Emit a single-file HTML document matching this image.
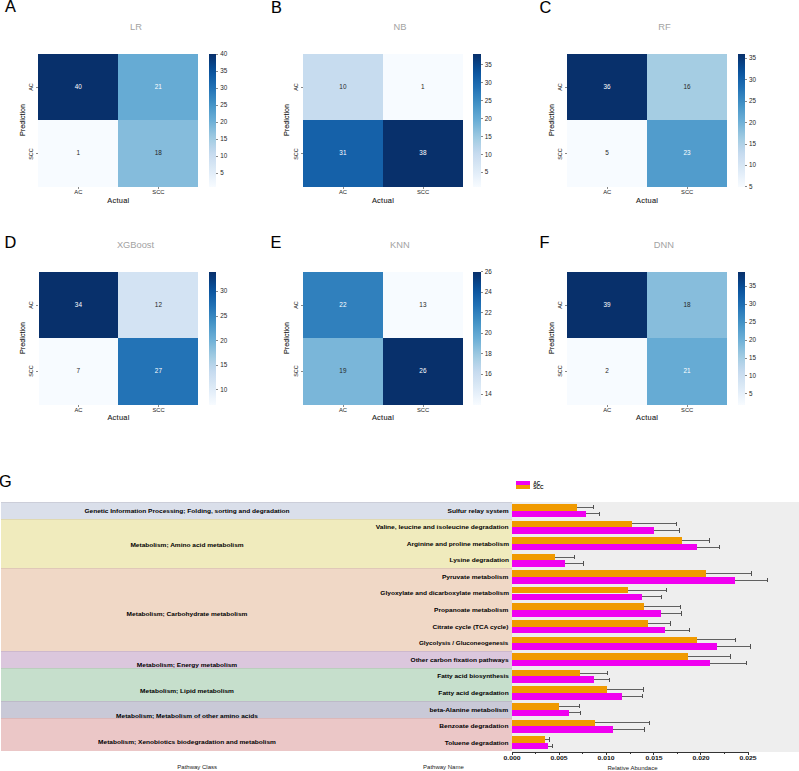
<!DOCTYPE html><html><head><meta charset="utf-8"><style>
html,body{margin:0;padding:0;background:#fff;}
body{width:799px;height:771px;position:relative;overflow:hidden;font-family:"Liberation Sans", sans-serif;}
div{position:absolute;box-sizing:border-box;}
.plab{font-size:16.3px;color:#000;line-height:1;-webkit-text-stroke:0.12px #000;}
.ttl{width:100px;text-align:center;font-size:9.3px;color:#a2a2a2;line-height:1;}
.cell{display:flex;align-items:center;justify-content:center;font-size:6.4px;line-height:1;}
.tk{background:#8a8a8a;}
.ytl{width:20px;height:10px;font-size:5.5px;color:#111;line-height:10px;text-align:center;transform:rotate(-90deg);}
.xtl{width:40px;text-align:center;font-size:5.8px;color:#1a1a1a;line-height:1;}
.xlab{width:60px;text-align:center;font-size:7.4px;letter-spacing:0.28px;color:#1a1a1a;line-height:1;-webkit-text-stroke:0.1px #1a1a1a;}
.ylab{width:60px;height:10px;line-height:10px;text-align:center;font-size:7.2px;color:#1a1a1a;transform:rotate(-90deg);-webkit-text-stroke:0.1px #1a1a1a;}
.cbl{font-size:6.3px;color:#262626;line-height:10px;}
.band{left:1px;width:510.8px;box-shadow:inset 0 1px 0 rgba(90,60,70,0.10);}
.clab{left:87px;width:200px;margin-left:0;text-align:center;white-space:nowrap;font-size:5.6px;font-weight:bold;color:#000;line-height:10px;display:flex;justify-content:center;transform:scaleX(1.17);transform-origin:50% 50%;}
.pname{right:290.3px;white-space:nowrap;font-size:5.6px;font-weight:bold;color:#000;line-height:10px;z-index:20;transform:scaleX(1.175);transform-origin:100% 50%;}
.bar{}
.err{background:#505050;}
.xtick{width:40px;text-align:center;font-size:5.6px;font-weight:bold;color:#111;line-height:1;transform:scaleX(1.22);transform-origin:50% 50%;}
.leg{font-size:4.9px;font-weight:bold;color:#111;line-height:1;}
.blab{width:100px;text-align:center;font-size:6px;color:#222;line-height:1;}
</style></head><body>
<div class="plab" style="left:5.0px;top:-2.5px">A</div>
<div class="ttl" style="left:86.0px;top:22.7px">LR</div>
<div class="cell" style="left:38.40px;top:54.00px;width:79.80px;height:66.40px;background:#08306b;color:#ffffff"><span>40</span></div>
<div class="cell" style="left:118.20px;top:54.00px;width:80.20px;height:66.40px;background:#66abd4;color:#ffffff"><span>21</span></div>
<div class="cell" style="left:38.40px;top:120.40px;width:79.80px;height:66.40px;background:#f7fbff;color:#262626"><span>1</span></div>
<div class="cell" style="left:118.20px;top:120.40px;width:80.20px;height:66.40px;background:#85bcdc;color:#262626"><span>18</span></div>
<div class="ytl" style="left:21.299999999999997px;top:82.2px">AC</div>
<div class="tk" style="left:36.199999999999996px;top:86.8px;width:2px;height:0.8px"></div>
<div class="ytl" style="left:21.299999999999997px;top:148.60000000000002px">SCC</div>
<div class="tk" style="left:36.199999999999996px;top:153.20000000000002px;width:2px;height:0.8px"></div>
<div class="xtl" style="left:58.400000000000006px;top:190.4px">AC</div>
<div class="tk" style="left:78.0px;top:186.8px;width:0.8px;height:2px"></div>
<div class="xtl" style="left:138.4px;top:190.4px">SCC</div>
<div class="tk" style="left:158.0px;top:186.8px;width:0.8px;height:2px"></div>
<div class="xlab" style="left:88.4px;top:196.60000000000002px">Actual</div>
<div class="ylab" style="left:-7.300000000000001px;top:115.4px">Prediction</div>
<div class="cb" style="left:208.70px;top:54.0px;width:7.3px;height:132.8px;background:linear-gradient(to bottom,#08306b 0.0%,#083c7d 5.0%,#084a91 10.0%,#0d57a1 15.0%,#1764ab 20.0%,#2070b4 25.0%,#2e7ebc 30.0%,#3b8bc2 35.0%,#4a98c9 40.0%,#5ba3d0 45.0%,#6aaed6 50.0%,#7fb9da 55.0%,#94c4df 60.0%,#a6cee4 65.0%,#b7d4ea 70.0%,#c6dbef 75.0%,#d0e1f2 80.0%,#d9e8f5 85.0%,#e3eef9 90.0%,#eef5fc 95.0%,#f7fbff 100.0%)"></div>
<div class="tk" style="left:216.00px;top:172.78px;width:2px;height:0.8px"></div>
<div class="cbl" style="left:220.20px;top:168.18px">5</div>
<div class="tk" style="left:216.00px;top:155.75px;width:2px;height:0.8px"></div>
<div class="cbl" style="left:220.20px;top:151.15px">10</div>
<div class="tk" style="left:216.00px;top:138.73px;width:2px;height:0.8px"></div>
<div class="cbl" style="left:220.20px;top:134.13px">15</div>
<div class="tk" style="left:216.00px;top:121.70px;width:2px;height:0.8px"></div>
<div class="cbl" style="left:220.20px;top:117.10px">20</div>
<div class="tk" style="left:216.00px;top:104.68px;width:2px;height:0.8px"></div>
<div class="cbl" style="left:220.20px;top:100.08px">25</div>
<div class="tk" style="left:216.00px;top:87.65px;width:2px;height:0.8px"></div>
<div class="cbl" style="left:220.20px;top:83.05px">30</div>
<div class="tk" style="left:216.00px;top:70.63px;width:2px;height:0.8px"></div>
<div class="cbl" style="left:220.20px;top:66.03px">35</div>
<div class="tk" style="left:216.00px;top:53.60px;width:2px;height:0.8px"></div>
<div class="cbl" style="left:220.20px;top:49.00px">40</div>
<div class="plab" style="left:271.0px;top:-1.5px">B</div>
<div class="ttl" style="left:350.0px;top:22.7px">NB</div>
<div class="cell" style="left:303.00px;top:54.00px;width:79.80px;height:66.40px;background:#c7dcef;color:#262626"><span>10</span></div>
<div class="cell" style="left:382.80px;top:54.00px;width:80.20px;height:66.40px;background:#f7fbff;color:#262626"><span>1</span></div>
<div class="cell" style="left:303.00px;top:120.40px;width:79.80px;height:66.40px;background:#1561a9;color:#ffffff"><span>31</span></div>
<div class="cell" style="left:382.80px;top:120.40px;width:80.20px;height:66.40px;background:#08306b;color:#ffffff"><span>38</span></div>
<div class="ytl" style="left:285.9px;top:82.2px">AC</div>
<div class="tk" style="left:300.8px;top:86.8px;width:2px;height:0.8px"></div>
<div class="ytl" style="left:285.9px;top:148.60000000000002px">SCC</div>
<div class="tk" style="left:300.8px;top:153.20000000000002px;width:2px;height:0.8px"></div>
<div class="xtl" style="left:323.0px;top:190.4px">AC</div>
<div class="tk" style="left:342.6px;top:186.8px;width:0.8px;height:2px"></div>
<div class="xtl" style="left:403.0px;top:190.4px">SCC</div>
<div class="tk" style="left:422.6px;top:186.8px;width:0.8px;height:2px"></div>
<div class="xlab" style="left:353.0px;top:196.60000000000002px">Actual</div>
<div class="ylab" style="left:257.3px;top:115.4px">Prediction</div>
<div class="cb" style="left:473.30px;top:54.0px;width:7.3px;height:132.8px;background:linear-gradient(to bottom,#08306b 0.0%,#083c7d 5.0%,#084a91 10.0%,#0d57a1 15.0%,#1764ab 20.0%,#2070b4 25.0%,#2e7ebc 30.0%,#3b8bc2 35.0%,#4a98c9 40.0%,#5ba3d0 45.0%,#6aaed6 50.0%,#7fb9da 55.0%,#94c4df 60.0%,#a6cee4 65.0%,#b7d4ea 70.0%,#c6dbef 75.0%,#d0e1f2 80.0%,#d9e8f5 85.0%,#e3eef9 90.0%,#eef5fc 95.0%,#f7fbff 100.0%)"></div>
<div class="tk" style="left:480.60px;top:172.04px;width:2px;height:0.8px"></div>
<div class="cbl" style="left:484.80px;top:167.44px">5</div>
<div class="tk" style="left:480.60px;top:154.10px;width:2px;height:0.8px"></div>
<div class="cbl" style="left:484.80px;top:149.50px">10</div>
<div class="tk" style="left:480.60px;top:136.15px;width:2px;height:0.8px"></div>
<div class="cbl" style="left:484.80px;top:131.55px">15</div>
<div class="tk" style="left:480.60px;top:118.21px;width:2px;height:0.8px"></div>
<div class="cbl" style="left:484.80px;top:113.61px">20</div>
<div class="tk" style="left:480.60px;top:100.26px;width:2px;height:0.8px"></div>
<div class="cbl" style="left:484.80px;top:95.66px">25</div>
<div class="tk" style="left:480.60px;top:82.31px;width:2px;height:0.8px"></div>
<div class="cbl" style="left:484.80px;top:77.71px">30</div>
<div class="tk" style="left:480.60px;top:64.37px;width:2px;height:0.8px"></div>
<div class="cbl" style="left:484.80px;top:59.77px">35</div>
<div class="plab" style="left:539.5px;top:-1.5px">C</div>
<div class="ttl" style="left:614.5px;top:22.7px">RF</div>
<div class="cell" style="left:567.20px;top:54.00px;width:79.80px;height:66.40px;background:#08306b;color:#ffffff"><span>36</span></div>
<div class="cell" style="left:647.00px;top:54.00px;width:80.20px;height:66.40px;background:#a5cde3;color:#262626"><span>16</span></div>
<div class="cell" style="left:567.20px;top:120.40px;width:79.80px;height:66.40px;background:#f7fbff;color:#262626"><span>5</span></div>
<div class="cell" style="left:647.00px;top:120.40px;width:80.20px;height:66.40px;background:#519ccc;color:#ffffff"><span>23</span></div>
<div class="ytl" style="left:550.1px;top:82.2px">AC</div>
<div class="tk" style="left:565.0px;top:86.8px;width:2px;height:0.8px"></div>
<div class="ytl" style="left:550.1px;top:148.60000000000002px">SCC</div>
<div class="tk" style="left:565.0px;top:153.20000000000002px;width:2px;height:0.8px"></div>
<div class="xtl" style="left:587.2px;top:190.4px">AC</div>
<div class="tk" style="left:606.8000000000001px;top:186.8px;width:0.8px;height:2px"></div>
<div class="xtl" style="left:667.2px;top:190.4px">SCC</div>
<div class="tk" style="left:686.8000000000001px;top:186.8px;width:0.8px;height:2px"></div>
<div class="xlab" style="left:617.2px;top:196.60000000000002px">Actual</div>
<div class="ylab" style="left:521.5px;top:115.4px">Prediction</div>
<div class="cb" style="left:737.50px;top:54.0px;width:7.3px;height:132.8px;background:linear-gradient(to bottom,#08306b 0.0%,#083c7d 5.0%,#084a91 10.0%,#0d57a1 15.0%,#1764ab 20.0%,#2070b4 25.0%,#2e7ebc 30.0%,#3b8bc2 35.0%,#4a98c9 40.0%,#5ba3d0 45.0%,#6aaed6 50.0%,#7fb9da 55.0%,#94c4df 60.0%,#a6cee4 65.0%,#b7d4ea 70.0%,#c6dbef 75.0%,#d0e1f2 80.0%,#d9e8f5 85.0%,#e3eef9 90.0%,#eef5fc 95.0%,#f7fbff 100.0%)"></div>
<div class="tk" style="left:744.80px;top:186.40px;width:2px;height:0.8px"></div>
<div class="cbl" style="left:749.00px;top:181.80px">5</div>
<div class="tk" style="left:744.80px;top:164.98px;width:2px;height:0.8px"></div>
<div class="cbl" style="left:749.00px;top:160.38px">10</div>
<div class="tk" style="left:744.80px;top:143.56px;width:2px;height:0.8px"></div>
<div class="cbl" style="left:749.00px;top:138.96px">15</div>
<div class="tk" style="left:744.80px;top:122.14px;width:2px;height:0.8px"></div>
<div class="cbl" style="left:749.00px;top:117.54px">20</div>
<div class="tk" style="left:744.80px;top:100.72px;width:2px;height:0.8px"></div>
<div class="cbl" style="left:749.00px;top:96.12px">25</div>
<div class="tk" style="left:744.80px;top:79.30px;width:2px;height:0.8px"></div>
<div class="cbl" style="left:749.00px;top:74.70px">30</div>
<div class="tk" style="left:744.80px;top:57.88px;width:2px;height:0.8px"></div>
<div class="cbl" style="left:749.00px;top:53.28px">35</div>
<div class="plab" style="left:4.5px;top:233.5px">D</div>
<div class="ttl" style="left:85.5px;top:240.5px">XGBoost</div>
<div class="cell" style="left:38.50px;top:271.80px;width:79.80px;height:66.40px;background:#08306b;color:#ffffff"><span>34</span></div>
<div class="cell" style="left:118.30px;top:271.80px;width:80.20px;height:66.40px;background:#d3e3f3;color:#262626"><span>12</span></div>
<div class="cell" style="left:38.50px;top:338.20px;width:79.80px;height:66.40px;background:#f7fbff;color:#262626"><span>7</span></div>
<div class="cell" style="left:118.30px;top:338.20px;width:80.20px;height:66.40px;background:#2373b6;color:#ffffff"><span>27</span></div>
<div class="ytl" style="left:21.4px;top:300.0px">AC</div>
<div class="tk" style="left:36.3px;top:304.6px;width:2px;height:0.8px"></div>
<div class="ytl" style="left:21.4px;top:366.4px">SCC</div>
<div class="tk" style="left:36.3px;top:371.0px;width:2px;height:0.8px"></div>
<div class="xtl" style="left:58.5px;top:408.20000000000005px">AC</div>
<div class="tk" style="left:78.1px;top:404.6px;width:0.8px;height:2px"></div>
<div class="xtl" style="left:138.5px;top:408.20000000000005px">SCC</div>
<div class="tk" style="left:158.1px;top:404.6px;width:0.8px;height:2px"></div>
<div class="xlab" style="left:88.5px;top:414.40000000000003px">Actual</div>
<div class="ylab" style="left:-7.199999999999999px;top:333.20000000000005px">Prediction</div>
<div class="cb" style="left:208.80px;top:271.8px;width:7.3px;height:132.8px;background:linear-gradient(to bottom,#08306b 0.0%,#083c7d 5.0%,#084a91 10.0%,#0d57a1 15.0%,#1764ab 20.0%,#2070b4 25.0%,#2e7ebc 30.0%,#3b8bc2 35.0%,#4a98c9 40.0%,#5ba3d0 45.0%,#6aaed6 50.0%,#7fb9da 55.0%,#94c4df 60.0%,#a6cee4 65.0%,#b7d4ea 70.0%,#c6dbef 75.0%,#d0e1f2 80.0%,#d9e8f5 85.0%,#e3eef9 90.0%,#eef5fc 95.0%,#f7fbff 100.0%)"></div>
<div class="tk" style="left:216.10px;top:389.44px;width:2px;height:0.8px"></div>
<div class="cbl" style="left:220.30px;top:384.84px">10</div>
<div class="tk" style="left:216.10px;top:364.85px;width:2px;height:0.8px"></div>
<div class="cbl" style="left:220.30px;top:360.25px">15</div>
<div class="tk" style="left:216.10px;top:340.26px;width:2px;height:0.8px"></div>
<div class="cbl" style="left:220.30px;top:335.66px">20</div>
<div class="tk" style="left:216.10px;top:315.67px;width:2px;height:0.8px"></div>
<div class="cbl" style="left:220.30px;top:311.07px">25</div>
<div class="tk" style="left:216.10px;top:291.07px;width:2px;height:0.8px"></div>
<div class="cbl" style="left:220.30px;top:286.47px">30</div>
<div class="plab" style="left:270.5px;top:233.5px">E</div>
<div class="ttl" style="left:349.8px;top:240.5px">KNN</div>
<div class="cell" style="left:303.00px;top:271.80px;width:79.80px;height:66.40px;background:#3080bd;color:#ffffff"><span>22</span></div>
<div class="cell" style="left:382.80px;top:271.80px;width:80.20px;height:66.40px;background:#f7fbff;color:#262626"><span>13</span></div>
<div class="cell" style="left:303.00px;top:338.20px;width:79.80px;height:66.40px;background:#7ab6d9;color:#262626"><span>19</span></div>
<div class="cell" style="left:382.80px;top:338.20px;width:80.20px;height:66.40px;background:#08306b;color:#ffffff"><span>26</span></div>
<div class="ytl" style="left:285.9px;top:300.0px">AC</div>
<div class="tk" style="left:300.8px;top:304.6px;width:2px;height:0.8px"></div>
<div class="ytl" style="left:285.9px;top:366.4px">SCC</div>
<div class="tk" style="left:300.8px;top:371.0px;width:2px;height:0.8px"></div>
<div class="xtl" style="left:323.0px;top:408.20000000000005px">AC</div>
<div class="tk" style="left:342.6px;top:404.6px;width:0.8px;height:2px"></div>
<div class="xtl" style="left:403.0px;top:408.20000000000005px">SCC</div>
<div class="tk" style="left:422.6px;top:404.6px;width:0.8px;height:2px"></div>
<div class="xlab" style="left:353.0px;top:414.40000000000003px">Actual</div>
<div class="ylab" style="left:257.3px;top:333.20000000000005px">Prediction</div>
<div class="cb" style="left:473.30px;top:271.8px;width:7.3px;height:132.8px;background:linear-gradient(to bottom,#08306b 0.0%,#083c7d 5.0%,#084a91 10.0%,#0d57a1 15.0%,#1764ab 20.0%,#2070b4 25.0%,#2e7ebc 30.0%,#3b8bc2 35.0%,#4a98c9 40.0%,#5ba3d0 45.0%,#6aaed6 50.0%,#7fb9da 55.0%,#94c4df 60.0%,#a6cee4 65.0%,#b7d4ea 70.0%,#c6dbef 75.0%,#d0e1f2 80.0%,#d9e8f5 85.0%,#e3eef9 90.0%,#eef5fc 95.0%,#f7fbff 100.0%)"></div>
<div class="tk" style="left:480.60px;top:393.98px;width:2px;height:0.8px"></div>
<div class="cbl" style="left:484.80px;top:389.38px">14</div>
<div class="tk" style="left:480.60px;top:373.55px;width:2px;height:0.8px"></div>
<div class="cbl" style="left:484.80px;top:368.95px">16</div>
<div class="tk" style="left:480.60px;top:353.12px;width:2px;height:0.8px"></div>
<div class="cbl" style="left:484.80px;top:348.52px">18</div>
<div class="tk" style="left:480.60px;top:332.69px;width:2px;height:0.8px"></div>
<div class="cbl" style="left:484.80px;top:328.09px">20</div>
<div class="tk" style="left:480.60px;top:312.26px;width:2px;height:0.8px"></div>
<div class="cbl" style="left:484.80px;top:307.66px">22</div>
<div class="tk" style="left:480.60px;top:291.83px;width:2px;height:0.8px"></div>
<div class="cbl" style="left:484.80px;top:287.23px">24</div>
<div class="tk" style="left:480.60px;top:271.40px;width:2px;height:0.8px"></div>
<div class="cbl" style="left:484.80px;top:266.80px">26</div>
<div class="plab" style="left:539.5px;top:233.5px">F</div>
<div class="ttl" style="left:613.8px;top:240.5px">DNN</div>
<div class="cell" style="left:567.20px;top:271.80px;width:79.80px;height:66.40px;background:#08306b;color:#ffffff"><span>39</span></div>
<div class="cell" style="left:647.00px;top:271.80px;width:80.20px;height:66.40px;background:#87bddc;color:#262626"><span>18</span></div>
<div class="cell" style="left:567.20px;top:338.20px;width:79.80px;height:66.40px;background:#f7fbff;color:#262626"><span>2</span></div>
<div class="cell" style="left:647.00px;top:338.20px;width:80.20px;height:66.40px;background:#66abd4;color:#ffffff"><span>21</span></div>
<div class="ytl" style="left:550.1px;top:300.0px">AC</div>
<div class="tk" style="left:565.0px;top:304.6px;width:2px;height:0.8px"></div>
<div class="ytl" style="left:550.1px;top:366.4px">SCC</div>
<div class="tk" style="left:565.0px;top:371.0px;width:2px;height:0.8px"></div>
<div class="xtl" style="left:587.2px;top:408.20000000000005px">AC</div>
<div class="tk" style="left:606.8000000000001px;top:404.6px;width:0.8px;height:2px"></div>
<div class="xtl" style="left:667.2px;top:408.20000000000005px">SCC</div>
<div class="tk" style="left:686.8000000000001px;top:404.6px;width:0.8px;height:2px"></div>
<div class="xlab" style="left:617.2px;top:414.40000000000003px">Actual</div>
<div class="ylab" style="left:521.5px;top:333.20000000000005px">Prediction</div>
<div class="cb" style="left:737.50px;top:271.8px;width:7.3px;height:132.8px;background:linear-gradient(to bottom,#08306b 0.0%,#083c7d 5.0%,#084a91 10.0%,#0d57a1 15.0%,#1764ab 20.0%,#2070b4 25.0%,#2e7ebc 30.0%,#3b8bc2 35.0%,#4a98c9 40.0%,#5ba3d0 45.0%,#6aaed6 50.0%,#7fb9da 55.0%,#94c4df 60.0%,#a6cee4 65.0%,#b7d4ea 70.0%,#c6dbef 75.0%,#d0e1f2 80.0%,#d9e8f5 85.0%,#e3eef9 90.0%,#eef5fc 95.0%,#f7fbff 100.0%)"></div>
<div class="tk" style="left:744.80px;top:393.43px;width:2px;height:0.8px"></div>
<div class="cbl" style="left:749.00px;top:388.83px">5</div>
<div class="tk" style="left:744.80px;top:375.49px;width:2px;height:0.8px"></div>
<div class="cbl" style="left:749.00px;top:370.89px">10</div>
<div class="tk" style="left:744.80px;top:357.54px;width:2px;height:0.8px"></div>
<div class="cbl" style="left:749.00px;top:352.94px">15</div>
<div class="tk" style="left:744.80px;top:339.59px;width:2px;height:0.8px"></div>
<div class="cbl" style="left:749.00px;top:334.99px">20</div>
<div class="tk" style="left:744.80px;top:321.65px;width:2px;height:0.8px"></div>
<div class="cbl" style="left:749.00px;top:317.05px">25</div>
<div class="tk" style="left:744.80px;top:303.70px;width:2px;height:0.8px"></div>
<div class="cbl" style="left:749.00px;top:299.10px">30</div>
<div class="tk" style="left:744.80px;top:285.76px;width:2px;height:0.8px"></div>
<div class="cbl" style="left:749.00px;top:281.16px">35</div>
<div class="plab" style="left:-1px;top:472.5px">G</div>
<div style="position:absolute;left:512px;top:501.5px;width:287px;height:250.70000000000005px;background:#eeeeee"></div>
<div class="band" style="top:501.50px;height:17.68px;background:#dadfea;z-index:0"></div>
<div class="clab" style="top:506.15px;z-index:20">Genetic Information Processing; Folding, sorting and degradation</div>
<div class="band" style="top:518.58px;height:50.34px;background:#f0ebbd;z-index:2"></div>
<div class="clab" style="top:539.85px;z-index:20">Metabolism; Amino acid metabolism</div>
<div class="band" style="top:568.32px;height:83.50px;background:#f0d8c6;z-index:4"></div>
<div class="clab" style="top:608.55px;z-index:20">Metabolism; Carbohydrate metabolism</div>
<div class="band" style="top:651.22px;height:17.18px;background:#dbc7dd;z-index:6"></div>
<div class="clab" style="top:660.05px;z-index:7">Metabolism; Energy metabolism</div>
<div class="band" style="top:667.80px;height:33.76px;background:#c6dfcc;z-index:8"></div>
<div class="clab" style="top:685.65px;z-index:20">Metabolism; Lipid metabolism</div>
<div class="band" style="top:700.96px;height:17.18px;background:#c9c9d7;z-index:10"></div>
<div class="clab" style="top:711.15px;z-index:20">Metabolism; Metabolism of other amino acids</div>
<div class="band" style="top:717.54px;height:33.16px;background:#ebc7c7;z-index:12"></div>
<div class="clab" style="top:736.75px;z-index:20">Metabolism; Xenobiotics biodegradation and metabolism</div>
<div class="pname" style="top:505.54px;transform:scaleX(1.1832)">Sulfur relay system</div>
<div class="bar" style="left:512.0px;top:504.00px;width:65.30px;height:6.6px;background:#f09a00"></div>
<div class="err" style="left:577.30px;top:506.85px;width:16.80px;height:0.9px;background:#606060"></div>
<div class="err" style="left:593.20px;top:505.10px;width:0.9px;height:4.4px"></div>
<div class="bar" style="left:512.0px;top:510.60px;width:74.40px;height:6.6px;background:#f000f0"></div>
<div class="err" style="left:586.40px;top:513.45px;width:13.50px;height:0.9px;background:#606060"></div>
<div class="err" style="left:599.00px;top:511.70px;width:0.9px;height:4.4px"></div>
<div class="pname" style="top:522.12px;transform:scaleX(1.1803)">Valine, leucine and isoleucine degradation</div>
<div class="bar" style="left:512.0px;top:520.58px;width:120.30px;height:6.6px;background:#f09a00"></div>
<div class="err" style="left:632.30px;top:523.43px;width:44.60px;height:0.9px;background:#606060"></div>
<div class="err" style="left:676.00px;top:521.68px;width:0.9px;height:4.4px"></div>
<div class="bar" style="left:512.0px;top:527.18px;width:141.80px;height:6.6px;background:#f000f0"></div>
<div class="err" style="left:653.80px;top:530.03px;width:25.80px;height:0.9px;background:#606060"></div>
<div class="err" style="left:678.70px;top:528.28px;width:0.9px;height:4.4px"></div>
<div class="pname" style="top:538.70px;transform:scaleX(1.1750)">Arginine and proline metabolism</div>
<div class="bar" style="left:512.0px;top:537.16px;width:170.00px;height:6.6px;background:#f09a00"></div>
<div class="err" style="left:682.00px;top:540.01px;width:27.60px;height:0.9px;background:#606060"></div>
<div class="err" style="left:708.70px;top:538.26px;width:0.9px;height:4.4px"></div>
<div class="bar" style="left:512.0px;top:543.76px;width:185.00px;height:6.6px;background:#f000f0"></div>
<div class="err" style="left:697.00px;top:546.61px;width:22.50px;height:0.9px;background:#606060"></div>
<div class="err" style="left:718.60px;top:544.86px;width:0.9px;height:4.4px"></div>
<div class="pname" style="top:555.28px;transform:scaleX(1.1672)">Lysine degradation</div>
<div class="bar" style="left:512.0px;top:553.74px;width:43.20px;height:6.6px;background:#f09a00"></div>
<div class="err" style="left:555.20px;top:556.59px;width:19.80px;height:0.9px;background:#606060"></div>
<div class="err" style="left:574.10px;top:554.84px;width:0.9px;height:4.4px"></div>
<div class="bar" style="left:512.0px;top:560.34px;width:53.20px;height:6.6px;background:#f000f0"></div>
<div class="err" style="left:565.20px;top:563.19px;width:18.60px;height:0.9px;background:#606060"></div>
<div class="err" style="left:582.90px;top:561.44px;width:0.9px;height:4.4px"></div>
<div class="pname" style="top:571.86px;transform:scaleX(1.1786)">Pyruvate metabolism</div>
<div class="bar" style="left:512.0px;top:570.32px;width:193.70px;height:6.6px;background:#f09a00"></div>
<div class="err" style="left:705.70px;top:573.17px;width:46.10px;height:0.9px;background:#606060"></div>
<div class="err" style="left:750.90px;top:571.42px;width:0.9px;height:4.4px"></div>
<div class="bar" style="left:512.0px;top:576.92px;width:222.70px;height:6.6px;background:#f000f0"></div>
<div class="err" style="left:734.70px;top:579.77px;width:32.90px;height:0.9px;background:#606060"></div>
<div class="err" style="left:766.70px;top:578.02px;width:0.9px;height:4.4px"></div>
<div class="pname" style="top:588.44px;transform:scaleX(1.1696)">Glyoxylate and dicarboxylate metabolism</div>
<div class="bar" style="left:512.0px;top:586.90px;width:116.00px;height:6.6px;background:#f09a00"></div>
<div class="err" style="left:628.00px;top:589.75px;width:39.20px;height:0.9px;background:#606060"></div>
<div class="err" style="left:666.30px;top:588.00px;width:0.9px;height:4.4px"></div>
<div class="bar" style="left:512.0px;top:593.50px;width:129.50px;height:6.6px;background:#f000f0"></div>
<div class="err" style="left:641.50px;top:596.35px;width:20.60px;height:0.9px;background:#606060"></div>
<div class="err" style="left:661.20px;top:594.60px;width:0.9px;height:4.4px"></div>
<div class="pname" style="top:605.02px;transform:scaleX(1.1719)">Propanoate metabolism</div>
<div class="bar" style="left:512.0px;top:603.48px;width:131.70px;height:6.6px;background:#f09a00"></div>
<div class="err" style="left:643.70px;top:606.33px;width:36.80px;height:0.9px;background:#606060"></div>
<div class="err" style="left:679.60px;top:604.58px;width:0.9px;height:4.4px"></div>
<div class="bar" style="left:512.0px;top:610.08px;width:148.60px;height:6.6px;background:#f000f0"></div>
<div class="err" style="left:660.60px;top:612.93px;width:21.60px;height:0.9px;background:#606060"></div>
<div class="err" style="left:681.30px;top:611.18px;width:0.9px;height:4.4px"></div>
<div class="pname" style="top:621.60px;transform:scaleX(1.1597)">Citrate cycle (TCA cycle)</div>
<div class="bar" style="left:512.0px;top:620.06px;width:135.60px;height:6.6px;background:#f09a00"></div>
<div class="err" style="left:647.60px;top:622.91px;width:22.90px;height:0.9px;background:#606060"></div>
<div class="err" style="left:669.60px;top:621.16px;width:0.9px;height:4.4px"></div>
<div class="bar" style="left:512.0px;top:626.66px;width:152.90px;height:6.6px;background:#f000f0"></div>
<div class="err" style="left:664.90px;top:629.51px;width:24.80px;height:0.9px;background:#606060"></div>
<div class="err" style="left:688.80px;top:627.76px;width:0.9px;height:4.4px"></div>
<div class="pname" style="top:638.18px;transform:scaleX(1.1270)">Glycolysis / Gluconeogenesis</div>
<div class="bar" style="left:512.0px;top:636.64px;width:185.00px;height:6.6px;background:#f09a00"></div>
<div class="err" style="left:697.00px;top:639.49px;width:38.50px;height:0.9px;background:#606060"></div>
<div class="err" style="left:734.60px;top:637.74px;width:0.9px;height:4.4px"></div>
<div class="bar" style="left:512.0px;top:643.24px;width:205.10px;height:6.6px;background:#f000f0"></div>
<div class="err" style="left:717.10px;top:646.09px;width:33.60px;height:0.9px;background:#606060"></div>
<div class="err" style="left:749.80px;top:644.34px;width:0.9px;height:4.4px"></div>
<div class="pname" style="top:654.76px;transform:scaleX(1.1726)">Other carbon fixation pathways</div>
<div class="bar" style="left:512.0px;top:653.22px;width:176.00px;height:6.6px;background:#f09a00"></div>
<div class="err" style="left:688.00px;top:656.07px;width:42.80px;height:0.9px;background:#606060"></div>
<div class="err" style="left:729.90px;top:654.32px;width:0.9px;height:4.4px"></div>
<div class="bar" style="left:512.0px;top:659.82px;width:198.30px;height:6.6px;background:#f000f0"></div>
<div class="err" style="left:710.30px;top:662.67px;width:36.70px;height:0.9px;background:#606060"></div>
<div class="err" style="left:746.10px;top:660.92px;width:0.9px;height:4.4px"></div>
<div class="pname" style="top:671.34px;transform:scaleX(1.1589)">Fatty acid biosynthesis</div>
<div class="bar" style="left:512.0px;top:669.80px;width:68.20px;height:6.6px;background:#f09a00"></div>
<div class="err" style="left:580.20px;top:672.65px;width:27.60px;height:0.9px;background:#606060"></div>
<div class="err" style="left:606.90px;top:670.90px;width:0.9px;height:4.4px"></div>
<div class="bar" style="left:512.0px;top:676.40px;width:82.20px;height:6.6px;background:#f000f0"></div>
<div class="err" style="left:594.20px;top:679.25px;width:15.40px;height:0.9px;background:#606060"></div>
<div class="err" style="left:608.70px;top:677.50px;width:0.9px;height:4.4px"></div>
<div class="pname" style="top:687.92px;transform:scaleX(1.1784)">Fatty acid degradation</div>
<div class="bar" style="left:512.0px;top:686.38px;width:94.60px;height:6.6px;background:#f09a00"></div>
<div class="err" style="left:606.60px;top:689.23px;width:37.00px;height:0.9px;background:#606060"></div>
<div class="err" style="left:642.70px;top:687.48px;width:0.9px;height:4.4px"></div>
<div class="bar" style="left:512.0px;top:692.98px;width:110.20px;height:6.6px;background:#f000f0"></div>
<div class="err" style="left:622.20px;top:695.83px;width:20.50px;height:0.9px;background:#606060"></div>
<div class="err" style="left:641.80px;top:694.08px;width:0.9px;height:4.4px"></div>
<div class="pname" style="top:704.50px;transform:scaleX(1.1903)">beta-Alanine metabolism</div>
<div class="bar" style="left:512.0px;top:702.96px;width:46.90px;height:6.6px;background:#f09a00"></div>
<div class="err" style="left:558.90px;top:705.81px;width:20.90px;height:0.9px;background:#606060"></div>
<div class="err" style="left:578.90px;top:704.06px;width:0.9px;height:4.4px"></div>
<div class="bar" style="left:512.0px;top:709.56px;width:56.90px;height:6.6px;background:#f000f0"></div>
<div class="err" style="left:568.90px;top:712.41px;width:11.60px;height:0.9px;background:#606060"></div>
<div class="err" style="left:579.60px;top:710.66px;width:0.9px;height:4.4px"></div>
<div class="pname" style="top:721.08px;transform:scaleX(1.1854)">Benzoate degradation</div>
<div class="bar" style="left:512.0px;top:719.54px;width:82.80px;height:6.6px;background:#f09a00"></div>
<div class="err" style="left:594.80px;top:722.39px;width:55.30px;height:0.9px;background:#606060"></div>
<div class="err" style="left:649.20px;top:720.64px;width:0.9px;height:4.4px"></div>
<div class="bar" style="left:512.0px;top:726.14px;width:100.60px;height:6.6px;background:#f000f0"></div>
<div class="err" style="left:612.60px;top:728.99px;width:31.80px;height:0.9px;background:#606060"></div>
<div class="err" style="left:643.50px;top:727.24px;width:0.9px;height:4.4px"></div>
<div class="pname" style="top:737.66px;transform:scaleX(1.1713)">Toluene degradation</div>
<div class="bar" style="left:512.0px;top:736.12px;width:33.10px;height:6.6px;background:#f09a00"></div>
<div class="err" style="left:545.10px;top:738.97px;width:4.30px;height:0.9px;background:#606060"></div>
<div class="err" style="left:548.50px;top:737.22px;width:0.9px;height:4.4px"></div>
<div class="bar" style="left:512.0px;top:742.72px;width:35.90px;height:6.6px;background:#f000f0"></div>
<div class="err" style="left:547.90px;top:745.57px;width:4.50px;height:0.9px;background:#606060"></div>
<div class="err" style="left:551.50px;top:743.82px;width:0.9px;height:4.4px"></div>
<div style="position:absolute;left:511.5px;top:752.0px;width:237.50px;height:0.9px;background:#333"></div>
<div style="position:absolute;left:511.55px;top:752.0px;width:0.9px;height:3.0px;background:#333"></div>
<div class="xtick" style="left:492.00px;top:755.6px">0.000</div>
<div style="position:absolute;left:535.15px;top:752.0px;width:0.9px;height:1.6px;background:#333"></div>
<div style="position:absolute;left:558.75px;top:752.0px;width:0.9px;height:3.0px;background:#333"></div>
<div class="xtick" style="left:539.20px;top:755.6px">0.005</div>
<div style="position:absolute;left:582.35px;top:752.0px;width:0.9px;height:1.6px;background:#333"></div>
<div style="position:absolute;left:605.95px;top:752.0px;width:0.9px;height:3.0px;background:#333"></div>
<div class="xtick" style="left:586.40px;top:755.6px">0.010</div>
<div style="position:absolute;left:629.55px;top:752.0px;width:0.9px;height:1.6px;background:#333"></div>
<div style="position:absolute;left:653.15px;top:752.0px;width:0.9px;height:3.0px;background:#333"></div>
<div class="xtick" style="left:633.60px;top:755.6px">0.015</div>
<div style="position:absolute;left:676.75px;top:752.0px;width:0.9px;height:1.6px;background:#333"></div>
<div style="position:absolute;left:700.35px;top:752.0px;width:0.9px;height:3.0px;background:#333"></div>
<div class="xtick" style="left:680.80px;top:755.6px">0.020</div>
<div style="position:absolute;left:723.95px;top:752.0px;width:0.9px;height:1.6px;background:#333"></div>
<div style="position:absolute;left:747.55px;top:752.0px;width:0.9px;height:3.0px;background:#333"></div>
<div class="xtick" style="left:728.00px;top:755.6px">0.025</div>
<div style="position:absolute;left:516px;top:481px;width:13.7px;height:4px;background:#f000f0"></div>
<div style="position:absolute;left:516px;top:485px;width:13.7px;height:4.1px;background:#f09a00"></div>
<div class="leg" style="left:533.2px;top:481.9px">AC</div>
<div class="leg" style="left:533.2px;top:486.1px">SCC</div>
<div class="blab" style="left:147.2px;top:763.5px">Pathway Class</div>
<div class="blab" style="left:393.4px;top:763.5px">Pathway Name</div>
<div class="blab" style="left:582.5px;top:764.5px">Relative Abundace</div>
</body></html>
